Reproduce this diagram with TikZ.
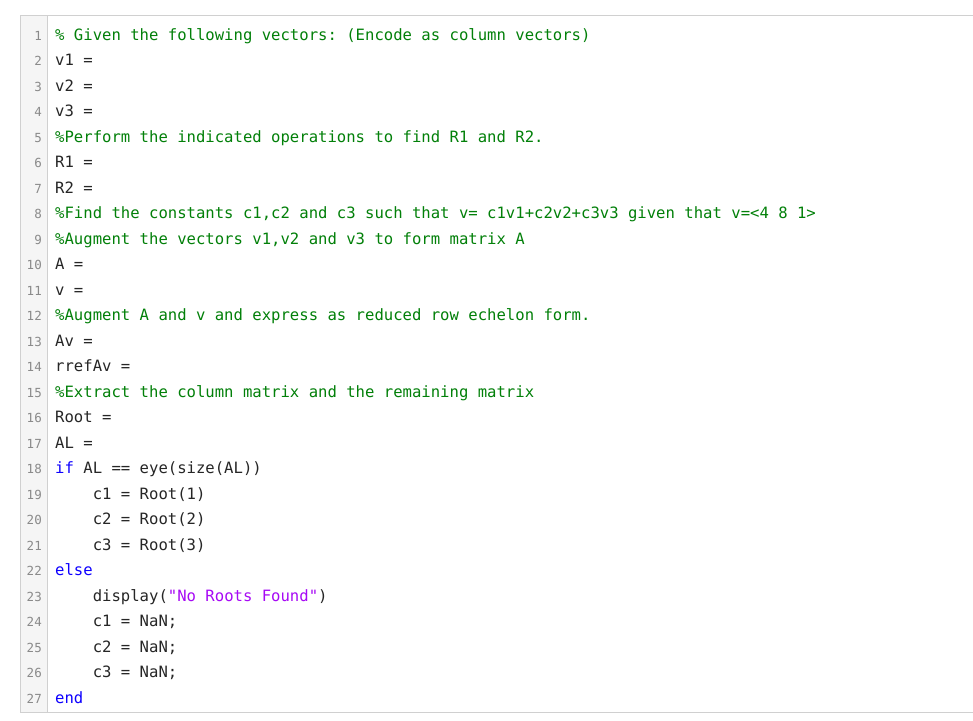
\documentclass[tikz,border=0pt]{standalone}
\usepackage{fontspec}
\setmonofont{DejaVu Sans Mono}
\definecolor{cmt}{HTML}{028009}
\definecolor{kw}{HTML}{0E00FF}
\definecolor{str}{HTML}{A709F5}
\definecolor{gut}{HTML}{F5F5F5}
\definecolor{bord}{HTML}{D0D0D0}
\definecolor{num}{HTML}{8A8A8A}
\begin{document}
\begin{tikzpicture}[x=1pt,y=-1pt,
  code/.style={anchor=base west,inner sep=0pt,font=\ttfamily\fontsize{15.6}{18}\selectfont,text=black!85},
  lnum/.style={anchor=base east,inner sep=0pt,font=\ttfamily\fontsize{12.5}{15}\selectfont,text=num}]
\useasboundingbox (0,0) rectangle (973,720);
\fill[white] (0,0) rectangle (973,720);
\fill[gut] (20,15) rectangle (47,712);
\draw[bord] (973,15) -- (20,15) -- (20,712) -- (973,712);
\draw[bord] (47,15) -- (47,712);
\def\L#1#2{\node[lnum] (n#1) at (42,{40+25.5*(#1-1)}) {#1};
  \node[code] (l#1) at (55,{40+25.5*(#1-1)}) {#2};}
\L{1}{\textcolor{cmt}{\% Given the following vectors: (Encode as column vectors)}}
\L{2}{v1 =}
\L{3}{v2 =}
\L{4}{v3 =}
\L{5}{\textcolor{cmt}{\%Perform the indicated operations to find R1 and R2.}}
\L{6}{R1 =}
\L{7}{R2 =}
\L{8}{\textcolor{cmt}{\%Find the constants c1,c2 and c3 such that v= c1v1+c2v2+c3v3 given that v=<4 8 1>}}
\L{9}{\textcolor{cmt}{\%Augment the vectors v1,v2 and v3 to form matrix A}}
\L{10}{A =}
\L{11}{v =}
\L{12}{\textcolor{cmt}{\%Augment A and v and express as reduced row echelon form.}}
\L{13}{Av =}
\L{14}{rrefAv =}
\L{15}{\textcolor{cmt}{\%Extract the column matrix and the remaining matrix}}
\L{16}{Root =}
\L{17}{AL =}
\L{18}{\textcolor{kw}{if} AL == eye(size(AL))}
\L{19}{\ \ \ \ c1 = Root(1)}
\L{20}{\ \ \ \ c2 = Root(2)}
\L{21}{\ \ \ \ c3 = Root(3)}
\L{22}{\textcolor{kw}{else}}
\L{23}{\ \ \ \ display(\textcolor{str}{"No Roots Found"})}
\L{24}{\ \ \ \ c1 = NaN;}
\L{25}{\ \ \ \ c2 = NaN;}
\L{26}{\ \ \ \ c3 = NaN;}
\L{27}{\textcolor{kw}{end}}
\end{tikzpicture}
\end{document}
